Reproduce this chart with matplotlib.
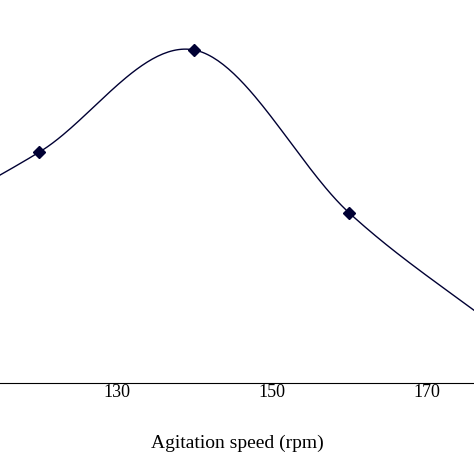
import numpy as np
import matplotlib
matplotlib.use("Agg")
import matplotlib.pyplot as plt

speed = [100, 120, 140, 160, 180]
value = [145, 231, 333, 170, 50]

def catmull(x, y, n=60):
    x = np.asarray(x, float); y = np.asarray(y, float)
    px = np.concatenate([[2*x[0]-x[1]], x, [2*x[-1]-x[-2]]])
    py = np.concatenate([[2*y[0]-y[1]], y, [2*y[-1]-y[-2]]])
    xs, ys = [], []
    t = np.linspace(0, 1, n)
    for i in range(1, len(px)-2):
        for p, out in ((px, xs), (py, ys)):
            p0, p1, p2, p3 = p[i-1], p[i], p[i+1], p[i+2]
            out.append(0.5*((2*p1) + (-p0+p2)*t + (2*p0-5*p1+4*p2-p3)*t**2 + (-p0+3*p1-3*p2+p3)*t**3))
    return np.concatenate(xs), np.concatenate(ys)

fig = plt.figure(figsize=(4.74, 4.74), dpi=100)
ax = fig.add_axes([0, 1-383/474, 1, 383/474])
sx, sy = catmull(speed, value)
ax.plot(sx, sy, color="#000033", lw=1)
ax.plot(speed, value, "D", color="#000033", ms=6, ls="none")
ax.set_xlim(114.9, 176.1)
ax.set_ylim(0, 383)
for s in ("left", "top", "right"):
    ax.spines[s].set_visible(False)
ax.set_yticks([])
ax.set_xticks([130, 150, 170])
ax.tick_params(axis="x", direction="out", length=0, labelsize=13, pad=1)
for lab in ax.get_xticklabels():
    lab.set_family("Liberation Serif")
ax.set_xlabel("Agitation speed (rpm)", family="Liberation Serif", fontsize=14, labelpad=24)
fig.savefig("out.png", dpi=100)
